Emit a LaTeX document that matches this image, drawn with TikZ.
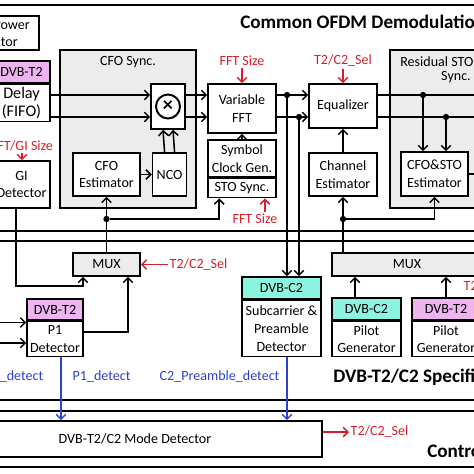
\documentclass[tikz,border=0pt]{standalone}
\usepackage{fontspec}
\setmainfont{Carlito}
\usetikzlibrary{arrows.meta}
\usetikzlibrary{positioning}

\definecolor{rosa}{RGB}{238,180,240}
\definecolor{turquesa}{RGB}{140,244,224}
\definecolor{gris}{RGB}{236,236,236}
\definecolor{rojo}{RGB}{215,30,45}
\definecolor{azul}{RGB}{45,65,205}

\tikzset{
	bloque/.style={draw, fill=white, line width=1.1pt, inner sep=0pt, align=center,
		font=\fontsize{10}{12.6}\selectfont},
	zona/.style={draw, fill=gris, line width=1.1pt, inner sep=0pt},
	marco/.style={draw, line width=1.1pt},
	linea/.style={line width=1.1pt},
	flecha/.style={line width=1.1pt, -{Straight Barb[length=1.2mm,width=2.4mm]}},
	rflecha/.style={flecha, draw=rojo},
	bflecha/.style={flecha, draw=azul},
	punto/.style={circle, fill, inner sep=0pt, minimum size=4.5pt},
	rotulo/.style={text=rojo, inner sep=1pt},
	senal/.style={text=azul, inner sep=1pt},
	titulo/.style={anchor=west, inner sep=0pt, font=\fontsize{13.6}{16}\selectfont\bfseries},
}

\begin{document}
\begin{tikzpicture}[x=0.025cm, y=-0.025cm]
	\useasboundingbox (0,0) rectangle (474,474);
	\clip (0,0) rectangle (474,474);

% marcos
	\draw[marco] (-20,5) rectangle (520,231);
	\draw[marco] (-20,241) rectangle (520,400);
	\draw[marco] (-20,411) rectangle (520,467);
	\node[titulo] (tcomun) at (240,22) {Common OFDM Demodulation};
	\node[titulo] (tespec) at (333,377) {DVB-T2/C2 Specific};
	\node[titulo] (tcontrol) at (427,451) {Control};

% zonas grises
	\node[zona, minimum width=3.4cm, minimum height=3.95cm] (cfosync) at (128,129) {};
	\node (tcfo) at (128,62) {CFO Sync.};
	\node[zona, minimum width=3.25cm, minimum height=3.95cm] (ressync) at (455,129) {};
	\node[anchor=west, inner sep=0pt] (tres1) at (400,62) {Residual STO};
	\node (tres2) at (456,77) {Sync.};

% entrada
	\node[bloque, minimum width=2.225cm, minimum height=0.85cm] (pwr) at (-5.5,33) {};
	\node[anchor=east, inner sep=0pt] (pwr1) at (30,25) {Power};
	\node[anchor=east, inner sep=0pt] (pwr2) at (18,42) {Detector};
	\node[bloque, fill=rosa, minimum width=1.425cm, minimum height=0.55cm] (t2delay) at (21.5,72) {DVB-T2};
	\node[bloque, below=0pt of t2delay, minimum width=1.425cm, minimum height=0.925cm,
		font=\fontsize{11.5}{12.8}\selectfont] (delay) {Delay\\(FIFO)};
	\node[rotulo] (gisz) at (22,146) {FFT/GI Size};
	\node[bloque, minimum width=1.425cm, minimum height=1.175cm] (gidet) at (21.5,184.5) {GI\\Detector};

% bloques comunes
	\node[bloque, minimum width=0.85cm, minimum height=1.125cm] (mult) at (168,106.5) {};
	\node[circle, draw, line width=1.4pt, minimum size=0.6cm, inner sep=0pt,
		font=\Large\bfseries] (cruz) at (mult) {×};
	\node[bloque, minimum width=1.675cm, minimum height=1.075cm] (cfoest) at (106.5,174.5) {CFO\\Estimator};
	\node[bloque, right=0.275cm of cfoest, minimum width=0.85cm, minimum height=1.075cm] (nco) {NCO};
	\node[bloque, minimum width=1.7cm, minimum height=1.225cm] (fft) at (242,108.5) {Variable\\FFT};
	\node[bloque, minimum width=1.7cm, minimum height=0.925cm] (sym) at (242,158.5) {Symbol\\Clock Gen.};
	\node[bloque, below=0pt of sym, minimum width=1.7cm, minimum height=0.475cm] (sto) {STO Sync.};
	\node[bloque, minimum width=1.7cm, minimum height=1.1cm] (eq) at (343,106) {Equalizer};
	\node[bloque, minimum width=1.7cm, minimum height=1.075cm] (chanest) at (343,174.5) {Channel\\Estimator};
	\node[bloque, minimum width=1.675cm, minimum height=1.1cm] (cfosto) at (434.5,174) {CFO\&STO\\Estimator};

% bloques especificos
	\node[bloque, fill=gris, minimum width=1.675cm, minimum height=0.575cm] (muxa) at (106.5,264.5) {MUX};
	\node[bloque, fill=gris, minimum width=3.75cm, minimum height=0.575cm] (muxb) at (407,264.5) {MUX};
	\node[bloque, fill=rosa, minimum width=1.4cm, minimum height=0.525cm] (t2p1) at (55,309.5) {DVB-T2};
	\node[bloque, below=0pt of t2p1, minimum width=1.4cm, minimum height=0.875cm] (p1det) {P1\\Detector};
	\node[bloque, fill=turquesa, minimum width=1.975cm, minimum height=0.55cm] (c2sub) at (281.5,288) {DVB-C2};
	\node[bloque, below=0pt of c2sub, minimum width=1.975cm, minimum height=1.4cm] (subdet) {Subcarrier \&\\Preamble\\Detector};
	\node[bloque, fill=turquesa, minimum width=1.725cm, minimum height=0.55cm] (c2pil) at (366.5,309) {DVB-C2};
	\node[bloque, below=0pt of c2pil, minimum width=1.725cm, minimum height=0.875cm] (c2gen) {Pilot\\Generator};
	\node[bloque, fill=rosa, minimum width=1.7cm, minimum height=0.55cm] (t2pil) at (446,309) {DVB-T2};
	\node[bloque, below=0pt of t2pil, minimum width=1.7cm, minimum height=0.875cm] (t2gen) {Pilot\\Generator};

% control
	\node[bloque, minimum width=9.35cm, minimum height=0.9cm] (mode) at (135,439) {DVB-T2/C2 Mode Detector};

% ramas de datos
	\coordinate (f1) at (0,95);
	\coordinate (f2) at (0,117);
	\coordinate (fin) at (480,0);
	\foreach \fila in {f1,f2} {
		\draw[flecha] (delay.east |- \fila) -- (mult.west |- \fila);
		\draw[flecha] (mult.east |- \fila) -- (fft.west |- \fila);
		\draw[flecha] (fft.east |- \fila) -- (eq.west |- \fila);
		\draw[linea] (eq.east |- \fila) -- (fin |- \fila);
	}
	\node[punto] (d1) at (287,95) {};
	\node[punto] (d2) at (299,117) {};
	\node[punto] (d3) at (423,95) {};
	\node[punto] (d4) at (446,117) {};
	\draw[flecha] (d1) -- (d1 |- c2sub.north);
	\draw[flecha] (d2) -- (d2 |- c2sub.north);
	\draw[flecha] (d3) -- (d3 |- cfosto.north);
	\draw[flecha] (d4) -- (d4 |- cfosto.north);

	\foreach \s in {-0.125cm,0.125cm}
		\draw[flecha] ([xshift=\s]nco.north) -- ([xshift=\s]mult.south);
	\draw[flecha] (cfoest) -- (nco);
	\draw[flecha] (sym) -- (fft);
	\draw[flecha] (chanest) -- (eq);
	\draw[linea] (cfosto.east) -- (cfosto.east -| fin);

% salidas de los MUX
	\node[punto] (d5) at (106.5,219) {};
	\node[punto] (d6) at (343,219) {};
	\draw[linea] (muxa) -- (d5);
	\draw[flecha] (d5) -- (cfoest);
	\draw[flecha] (d5) -| ([xshift=0.3cm]sto.south west);
	\draw[linea] (muxb.north -| d6) -- (d6);
	\draw[flecha] (d6) -- (chanest);
	\draw[flecha] (d6) -| (cfosto);

% entradas de los MUX
	\coordinate (c1) at (16,286);
	\coordinate (c2) at (83,286);
	\draw[flecha] (gidet.south -| c1) -- (c1) -- (c2) -- (c2 |- muxa.south);
	\coordinate (c3) at (128,332);
	\draw[flecha] (p1det.east |- c3) -- (c3) -- (c3 |- muxa.south);
	\coordinate (e1) at (-5,322.5);
	\coordinate (e2) at (-5,343);
	\foreach \e in {e1,e2}
		\draw[flecha] (\e) -- (\e -| p1det.west);
	\draw[flecha] ([xshift=-0.2875cm]c2pil.north) -- ([xshift=-0.2875cm]c2pil.north |- muxb.south);
	\draw[flecha] (t2pil) -- (t2pil |- muxb.south);

% senales rojas
	\node[rotulo] (fftsz1) at (242,61) {FFT Size};
	\draw[rflecha] (fftsz1) -- (fft);
	\node[rotulo] (sel1) at (343,61) {T2/C2\_Sel};
	\draw[rflecha] (sel1) -- (eq);
	\node[rotulo] (fftsz2) at (255,219) {FFT Size};
	\draw[rflecha] ([xshift=0.25cm]fftsz2.north) -- ([xshift=0.25cm]fftsz2.north |- sto.south);
	\draw[rflecha] (gisz.south) -- (gisz.south |- gidet.north);
	\node[rotulo, anchor=west] (sel2) at (168,264.5) {T2/C2\_Sel};
	\draw[rflecha] (sel2) -- (muxa);
	\node[rotulo, anchor=west] (sel3) at (462,287) {T2/C2\_Sel};
	\node[rotulo, anchor=west] (sel4) at (349,432) {T2/C2\_Sel};
	\draw[rflecha] (mode.east |- sel4) -- (sel4);

% senales azules
	\node[senal, anchor=east] (sgi) at (45,377) {\_detect};
	\node[senal, anchor=west] (sp1) at (71,377) {P1\_detect};
	\node[senal, anchor=west] (sc2) at (158,377) {C2\_Preamble\_detect};
	\draw[bflecha] ([xshift=0.15cm]p1det.south) -- ([xshift=0.15cm]p1det.south |- mode.north);
	\draw[bflecha] ([xshift=0.1375cm]subdet.south) -- ([xshift=0.1375cm]subdet.south |- mode.north);
\end{tikzpicture}
\end{document}
